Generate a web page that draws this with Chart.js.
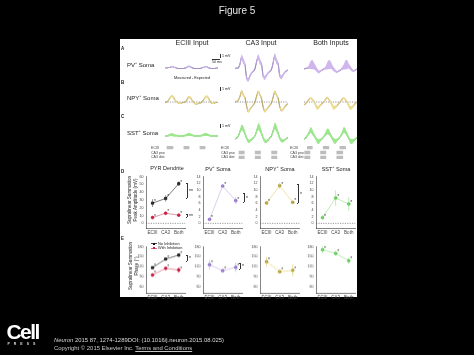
<!DOCTYPE html>
<html><head><meta charset="utf-8">
<style>
html,body{margin:0;padding:0;background:#000;width:474px;height:355px;overflow:hidden;font-family:"Liberation Sans",Arial,sans-serif}
#stage{position:absolute;left:0;top:0;width:474px;height:355px;filter:blur(0.35px)}
#panel{position:absolute;left:120px;top:39px;width:237px;height:258px;background:#fff}
canvas{position:absolute}
.t{position:absolute;white-space:nowrap;color:#222;line-height:1}
.c{transform:translateX(-50%)}
.r{transform:translate(-50%,-50%) rotate(-90deg);text-align:center;line-height:1.25}
.b{position:absolute;background:#333}
</style>
<script src="https://cdn.jsdelivr.net/npm/chart.js@4/dist/chart.umd.min.js"></script>
</head><body><div id="stage"><div id="panel"></div></div>
<script>
const timeMs=[0,10,20,30,40,50,60,70,80,90,100,110,120,130,140,150,160,170,180,190,200,210,220,230,240,250,260,270,280,290,300,310,320];
const pvEc=[0,0,0.1,0.1,0.3,0.2,0.1,0,-0.1,-0.1,-0.1,-0.1,0,0.1,0.3,0.3,0.1,0,-0.1,-0.1,-0.1,-0.1,0,0.1,0.2,0.3,0.1,0,-0.1,-0.1,-0.1,0,0];
const pvEcBand=[.05,.05,.05,.1,.15,.15,.1,.05,.05,.05,.05,.05,.05,.1,.15,.15,.1,.05,.05,.05,.05,.05,.05,.1,.15,.15,.1,.05,.05,.05,.05,.05,.05];
const pvCa=[-0.1,0,0,0.8,2.2,1.4,0.7,-2.0,-2.4,-1.6,-1.0,-0.7,-0.2,1.2,2.3,1.3,0.8,-1.6,-2.0,-1.5,-1.0,-0.7,-0.3,1.0,2.5,1.4,0.9,-1.5,-1.9,-1.4,-0.9,-0.6,-0.4];
const pvCaBand=[.05,.05,.05,.3,.5,.6,.4,.4,.4,.3,.2,.1,.1,.3,.5,.6,.4,.4,.4,.3,.2,.1,.1,.3,.5,.6,.4,.4,.4,.3,.2,.1,.1];
const pvBo=[-0.2,-0.1,0,0.2,0.6,0.7,0.4,0,-0.5,-0.8,-0.6,-0.4,-0.2,0,0.4,0.7,0.6,0.2,-0.3,-0.6,-0.8,-0.6,-0.4,-0.1,0.2,0.6,0.7,0.4,0,-0.4,-0.6,-0.4,-0.2];
const pvBoBand=[.05,.05,.1,.4,.8,.9,.7,.5,.4,.3,.2,.1,.1,.3,.7,.9,.8,.5,.4,.3,.2,.1,.1,.3,.5,.9,.9,.5,.4,.3,.2,.1,.1];
const npyEc=[-0.1,0,0.3,0.8,1.2,1.0,0.4,0.1,-0.2,-0.3,-0.2,-0.1,0,0.3,0.9,1.0,0.5,0.1,-0.3,-0.4,-0.3,-0.2,-0.1,0.3,0.8,1.1,0.9,0.3,-0.2,-0.3,-0.2,-0.1,-0.1];
const npyEcBand=[.05,.05,.1,.2,.25,.25,.15,.15,.15,.15,.1,.05,.05,.1,.25,.25,.15,.15,.15,.15,.1,.05,.05,.1,.25,.25,.25,.15,.15,.15,.1,.05,.05];
const npyCa=[0,0.1,0.4,1.1,2.2,1.4,0.9,-0.8,-1.9,-1.5,-1.0,-0.6,-0.1,1.1,2.1,1.5,0.7,-1.0,-1.9,-1.5,-1.1,-0.7,-0.2,0.9,2.1,1.4,0.8,-0.9,-1.7,-1.5,-1.0,-0.6,-0.3];
const npyCaBand=[.05,.05,.1,.2,.3,.3,.2,.2,.3,.2,.15,.1,.1,.2,.3,.3,.2,.2,.3,.2,.15,.1,.1,.2,.3,.3,.2,.2,.3,.2,.15,.1,.1];
const npyBo=[-0.6,-0.3,0.1,0.5,0.8,0.5,0.1,-0.6,-1.2,-1.0,-0.6,-0.3,0.1,0.5,0.9,0.5,0,-0.6,-1.2,-1.0,-0.7,-0.3,0.1,0.5,0.8,0.5,0,-0.7,-1.2,-1.1,-0.7,-0.3,0];
const npyBoBand=[.1,.1,.15,.15,.2,.2,.3,.4,.4,.3,.2,.1,.15,.15,.2,.2,.3,.4,.4,.3,.2,.1,.15,.15,.2,.2,.3,.4,.4,.3,.2,.1,.1];
const sstEc=[0,0,0.1,0.2,0.3,0.2,0.1,0.1,0,0,0,0,0.1,0.2,0.3,0.3,0.2,0.1,0,0,0,0,0.1,0.2,0.3,0.3,0.2,0.1,0,0,0,0,0];
const sstEcBand=[.1,.1,.2,.25,.3,.3,.25,.2,.2,.2,.2,.2,.2,.25,.3,.3,.25,.2,.2,.2,.2,.2,.2,.25,.3,.3,.25,.2,.2,.2,.1,.1,.1];
const sstCa=[-0.6,-0.4,0,0.9,1.7,1.4,0.5,-0.4,-1.0,-1.0,-0.7,-0.4,0,0.9,1.9,1.5,0.6,-0.4,-1.0,-1.1,-0.8,-0.4,0,1.0,2.0,1.5,0.6,-0.4,-0.9,-1.0,-0.8,-0.5,-0.3];
const sstCaBand=[.1,.1,.2,.4,.6,.6,.5,.4,.4,.3,.2,.1,.2,.4,.7,.7,.5,.4,.4,.3,.2,.1,.2,.4,.7,.7,.5,.4,.4,.3,.2,.1,.1];
const sstBo=[-0.6,-0.4,0.1,0.6,1.2,0.8,0.2,-0.4,-1.0,-1.1,-0.8,-0.5,-0.1,0.4,0.9,0.8,0.2,-0.4,-0.9,-1.1,-0.8,-0.5,-0.1,0.5,1.2,1.0,0.3,-0.4,-1.0,-1.1,-0.9,-0.6,-0.3];
const sstBoBand=[.1,.1,.2,.4,.6,.6,.4,.4,.5,.5,.3,.2,.2,.4,.6,.6,.4,.4,.5,.5,.3,.2,.2,.4,.6,.6,.4,.4,.5,.5,.3,.2,.1];

const stimRows=['ECIII','CA3 prox','CA3 dist'];
const stimEc1=[[12,48],null,null], stimEc2=[[114,145],null,null], stimEc3=[[211,242],null,null];
const stimCa1=[null,[24,56],[24,56]], stimCa2=[null,[122,154],[122,154]], stimCa3=[null,[221,253],[221,253]];
const stimBo1=[[20,50],[4,36],[4,36]], stimBo2=[[116,150],[100,132],[100,132]], stimBo3=[[217,251],[198,234],[198,234]];

const conds=['ECIII','CA3','Both'];
const peakPyrTicks=[0,10,20,30,40,50,60];
const peakSomaTicks=[0,2,4,6,8,10,12,14];
const phaseTicks=[60,90,120,150,180];
const pyrNo=[26,32,51], pyrNoErr=[5,4,3];
const pyrWith=[7.5,13,10.5], pyrWithErr=[1,1,1.5];
const pvPeak=[1.2,11.2,6.8], pvPeakErr=[0.4,0.6,1.0];
const npyPeak=[6.1,11.3,6.3], npyPeakErr=[0.4,0.9,0.4];
const sstPeak=[1.7,7.6,5.8], sstPeakErr=[0.7,2.3,2.0];
const phaseNo=[117,143,155], phaseNoErr=[3,4,6];
const phaseWith=[95,115,110], phaseWithErr=[3,4,8];
const pvPhase=[126,108,118], pvPhaseErr=[14,5,14];
const npyPhase=[135,105,109], npyPhaseErr=[14,6,18];
const sstPhase=[171,160,138], sstPhaseErr=[10,7,9];

const stage=document.getElementById('stage');
Chart.defaults.font.family='"Liberation Sans",Arial,sans-serif';
Chart.defaults.color='#333';
Chart.defaults.animation=false;

function cv(l,t,w,h){const c=document.createElement('canvas');c.width=w;c.height=h;c.style.cssText=`left:${l}px;top:${t}px;width:${w}px;height:${h}px`;stage.appendChild(c);return c;}
function text(s,l,t,fs,cls,col,extra){const d=document.createElement('div');d.className='t '+(cls||'');d.innerHTML=s;d.style.left=l+'px';d.style.top=t+'px';d.style.fontSize=fs+'px';if(col)d.style.color=col;if(extra)d.style.cssText+=extra;stage.appendChild(d);return d;}
function rule(l,t,w,h,col){const d=document.createElement('div');d.className='b';d.style.cssText=`left:${l}px;top:${t}px;width:${w}px;height:${h}px;`+(col?`background:${col}`:'');stage.appendChild(d);}

const refLine={id:'refLine',beforeDatasetsDraw(ch,a,o){if(o.value===undefined)return;const y=ch.scales.y.getPixelForValue(o.value),g=ch.ctx;g.save();g.strokeStyle=o.color||'#444';g.lineWidth=0.6;g.setLineDash([1.2,1.2]);g.beginPath();g.moveTo(ch.chartArea.left,y);g.lineTo(ch.chartArea.right,y);g.stroke();g.restore();}};
const errBars={id:'errBars',afterDatasetsDraw(ch){const g=ch.ctx;ch.data.datasets.forEach((d,i)=>{if(!d.errs)return;const m=ch.getDatasetMeta(i);g.save();g.strokeStyle=d.errColor;g.lineWidth=0.6;m.data.forEach((p,k)=>{const y1=ch.scales.y.getPixelForValue(d.data[k]+d.errs[k]),y2=ch.scales.y.getPixelForValue(d.data[k]-d.errs[k]);g.beginPath();g.moveTo(p.x,y1);g.lineTo(p.x,y2);g.stroke();g.fillStyle='#333';g.font='5px "Liberation Sans"';g.fillText('*',p.x+1.5,p.y);});g.restore();});}};
Chart.register(refLine,errBars);

function trace(left,base,mean,band,line,fill,dotted){
  const up=mean.map((v,i)=>v+band[i]),lo=mean.map((v,i)=>v-band[i]);
  const pts=a=>a.map((v,i)=>({x:timeMs[i],y:v}));
  new Chart(cv(left,base-20,53,40),{type:'line',data:{datasets:[
    {data:pts(up),borderWidth:0,pointRadius:0,fill:'+1',backgroundColor:fill,tension:.25},
    {data:pts(lo),borderWidth:0,pointRadius:0,fill:false,tension:.25},
    {data:pts(mean),borderColor:line,borderWidth:1.1,pointRadius:0,fill:false,tension:.25}]},
   options:{responsive:false,layout:{padding:0},plugins:{legend:{display:false},tooltip:{enabled:false},refLine:dotted?{value:0,color:'#555'}:{}},
    scales:{x:{type:'linear',display:false,min:0,max:320},y:{display:false,min:-4,max:4}}}});
}
const pur=['#7f6ca6','#cfb6ec'],gol=['#9c8850','#ecdc8c'],grn=['#52b84c','#9fe690'];
const rowA=68,rowB=102,rowC=136,colE=165,colC=235,colB=304;
trace(colE,rowA,pvEc,pvEcBand,...pur);trace(colC,rowA,pvCa,pvCaBand,...pur);trace(colB,rowA,pvBo,pvBoBand,...pur);
trace(colE,rowB,npyEc,npyEcBand,...gol,true);trace(colC,rowB,npyCa,npyCaBand,...gol,true);trace(colB,rowB,npyBo,npyBoBand,...gol,true);
trace(colE,rowC,sstEc,sstEcBand,...grn);trace(colC,rowC,sstCa,sstCaBand,...grn);trace(colB,rowC,sstBo,sstBoBand,...grn);

function stim(left,axisW,bursts){
  new Chart(cv(left-axisW,142.5,axisW+53,19),{type:'bar',data:{labels:stimRows,datasets:bursts.map(b=>({data:b,backgroundColor:'#bdbdbd',barThickness:2.6,grouped:false}))},
   options:{indexAxis:'y',responsive:false,layout:{padding:0},plugins:{legend:{display:false},tooltip:{enabled:false}},
    scales:{x:{type:'linear',display:false,min:0,max:320},
     y:{afterFit(s){s.width=axisW;},grid:{display:false},border:{display:false},ticks:{font:{size:3.6},crossAlign:'far',padding:0,autoSkip:false,color:'#444'}}}}});
}
stim(colE,14,[stimEc1,stimEc2,stimEc3]);stim(colC,14,[stimCa1,stimCa2,stimCa3]);stim(colB,14,[stimBo1,stimBo2,stimBo3]);

function summary(axisX,top,plotH,min,max,ticks,series){
  const W=17;
  new Chart(cv(axisX-W,top-4,W+44,4+plotH+9),{type:'line',data:{labels:conds,datasets:series.map(s=>({data:s.v,errs:s.e,errColor:s.ec,borderColor:s.l,borderWidth:0.7,pointBackgroundColor:s.p,pointBorderColor:s.p,pointRadius:s.r||1.4,pointStyle:s.st||'circle',tension:0,fill:false}))},
   options:{responsive:false,layout:{padding:{top:4,left:0,right:0,bottom:0}},plugins:{legend:{display:false},tooltip:{enabled:false},refLine:min<0?{value:0,color:'#555'}:{}},
    scales:{
     x:{afterFit(s){s.height=9;},offset:true,grid:{display:false,drawTicks:true,tickLength:2,tickColor:'#333'},border:{color:'#333',width:0.6},ticks:{font:{size:4.5},padding:0.5,maxRotation:0,autoSkip:false,color:'#444'}},
     y:{afterFit(s){s.width=W;},min,max,afterBuildTicks(a){a.ticks=ticks.map(v=>({value:v}));},grid:{display:false,tickLength:2,tickColor:'#333'},border:{color:'#333',width:0.6},ticks:{font:{size:3.6},padding:0.5,color:'#444'}}}}});
}
const ax=[146,203,260,316];
const topD=175.7,hD=52.3,topE=246,hE=46.7;
const pyrN={l:'#444',p:'#111',ec:'#444',st:'rect',r:1.6},pyrW={l:'#d96a80',p:'#c8203f',ec:'#c8203f'},
 pvS={l:'#cbb8e6',p:'#8a6cc0',ec:'#b9a4de'},npS={l:'#e8d97e',p:'#a89a30',ec:'#d8c868'},ssS={l:'#a4e596',p:'#58c850',ec:'#8edc80'};
summary(ax[0],topD,hD,-6,60,peakPyrTicks,[{...pyrN,v:pyrNo,e:pyrNoErr},{...pyrW,v:pyrWith,e:pyrWithErr}]);
summary(ax[1],topD,hD,-1.4,14,peakSomaTicks,[{...pvS,v:pvPeak,e:pvPeakErr}]);
summary(ax[2],topD,hD,-1.4,14,peakSomaTicks,[{...npS,v:npyPeak,e:npyPeakErr}]);
summary(ax[3],topD,hD,-1.4,14,peakSomaTicks,[{...ssS,v:sstPeak,e:sstPeakErr}]);
summary(ax[0],topE,hE,41,180,phaseTicks,[{...pyrN,v:phaseNo,e:phaseNoErr},{...pyrW,v:phaseWith,e:phaseWithErr}]);
summary(ax[1],topE,hE,41,180,phaseTicks,[{...pvS,v:pvPhase,e:pvPhaseErr}]);
summary(ax[2],topE,hE,41,180,phaseTicks,[{...npS,v:npyPhase,e:npyPhaseErr}]);
summary(ax[3],topE,hE,41,180,phaseTicks,[{...ssS,v:sstPhase,e:sstPhaseErr}]);

// page text
text('Figure 5',237,6,10,'c','#e6e6e6');
[['ECIII Input',192],['CA3 Input',261],['Both Inputs',331]].forEach(a=>text(a[0],a[1],38.5,7,'c'));
[['A',49],['B',83],['C',117],['D',172],['E',239]].forEach(a=>text(a[0],121,a[1]-2,4.5,'','#111','font-weight:bold'));
[['PV<sup style="font-size:3.5px">+</sup> Soma',62],['NPY<sup style="font-size:3.5px">+</sup> Soma',95],['SST<sup style="font-size:3.5px">+</sup> Soma',130]].forEach(a=>text(a[0],127,a[1],6,''));
text('Measured - Expected',174,76.5,3.8,'');
[[54,58],[87,91],[124,128]].forEach(a=>{rule(220,a[0],0.6,a[1]-a[0]);text('1 mV',222,a[0]+0.5,3.6,'');});
rule(212,59,8,0.6);text('50 ms',212,60.5,3.6,'');
[['PYR Dendrite',167],['PV<sup style="font-size:3.5px">+</sup> Soma',218],['NPY<sup style="font-size:3.5px">+</sup> Soma',280],['SST<sup style="font-size:3.5px">+</sup> Soma',336]].forEach(a=>text(a[0],a[1],165.5,5.5,'c'));
text('Supralinear Summation<br>Peak Amplitude (mV)',133,200,4.6,'r');
text('Supralinear Summation<br>Phase (°)',134,266,4.6,'r');
// significance brackets
[[187,183,15,'**'],[244,193,9,'*'],[298,184,19,'*'],[187,214,3,'**'],[187,255,6,'*'],[240,263,6,'*']].forEach(b=>{rule(b[0],b[1],0.6,b[2]);rule(b[0]-1.5,b[1],1.5,0.6);rule(b[0]-1.5,b[1]+b[2],1.5,0.6);text(b[3],b[0]+2,b[1]+b[2]/2-2,5,'');});
// legend for panel E
rule(151,243.3,6,0.6,'#444');rule(153,242.5,2,2,'#111');text('No Inhibition',158,241.5,3.9,'');
rule(151,247.8,6,0.6,'#d96a80');rule(153,247,2,2,'#c8203f');text('With Inhibition',158,246,3.9,'');
// footer
text('Cell',6.5,320.5,21,'','#fff','font-weight:bold;letter-spacing:-1.6px');
text('PRESS',7.5,342.5,3.5,'','#ddd','letter-spacing:4px;font-weight:bold');
text('<i>Neuron</i> 2015 87, 1274-1289DOI: (10.1016/j.neuron.2015.08.025)',54,338,5.9,'','#d8d8d8');
text('Copyright © 2015 Elsevier Inc. <u>Terms and Conditions</u>',54,346,5.9,'','#c8c8c8');
</script></body></html>
